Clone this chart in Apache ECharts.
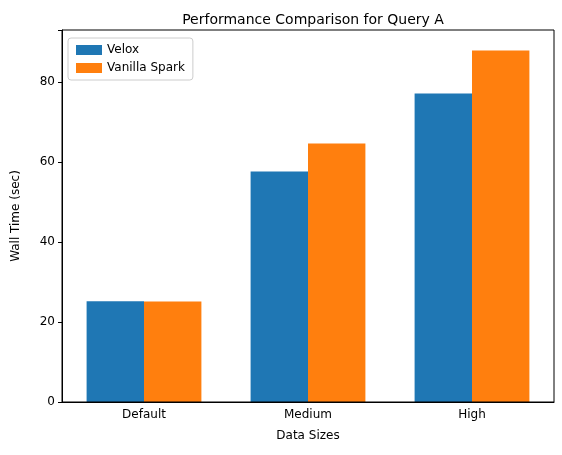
<!DOCTYPE html>
<html>
<head>
<meta charset="utf-8">
<script src="https://cdn.jsdelivr.net/npm/echarts@6/dist/echarts.min.js"></script>
<style>html,body{margin:0;padding:0;background:#fff}#chart{width:562px;height:455px}</style>
</head>
<body>
<div id="chart"></div>
<script>
var categories = ['Default', 'Medium', 'High'];
var velox = [25.2, 57.6, 77.1];
var spark = [25.1, 64.6, 87.9];
var yTicks = [0, 20, 40, 60, 80];

var myChart = echarts.init(document.getElementById('chart'));
var font = 'DejaVu Sans';
myChart.setOption({
  animation: false,
  textStyle: { fontFamily: font },
  title: {
    text: 'Performance Comparison for Query A',
    left: 308, top: 8, textAlign: 'center',
    textStyle: { fontSize: 14, fontWeight: 'normal', color: '#000', fontFamily: font }
  },
  color: ['#1f77b4', '#ff7f0e'],
  legend: {
    left: 68, top: 38, orient: 'vertical',
    itemWidth: 26, itemHeight: 10, itemGap: 6,
    borderColor: '#ccc', borderWidth: 1, borderRadius: 3, padding: [6, 8],
    textStyle: { fontSize: 12, color: '#000', fontFamily: font },
    icon: 'rect',
    data: ['Velox', 'Vanilla Spark']
  },
  grid: { left: 62, right: 8, top: 30, bottom: 53 },
  xAxis: {
    type: 'category', data: categories,
    name: 'Data Sizes', nameLocation: 'middle', nameGap: 28,
    nameTextStyle: { fontSize: 12, color: '#000' },
    axisLine: { lineStyle: { color: '#000' } },
    axisTick: { alignWithLabel: true, length: 4, lineStyle: { color: '#000' } },
    axisLabel: { fontSize: 12, color: '#000', margin: 7 },
    splitLine: { show: false }
  },
  yAxis: {
    type: 'value', min: 0, max: 93, interval: 20,
    name: 'Wall Time (sec)', nameLocation: 'middle', nameGap: 40,
    nameTextStyle: { fontSize: 12, color: '#000' },
    axisLine: { show: true, lineStyle: { color: '#000' } },
    axisTick: { show: true, length: 4, lineStyle: { color: '#000' } },
    axisLabel: { fontSize: 12, color: '#000', margin: 7,
      formatter: function (v) { return yTicks.indexOf(v) >= 0 ? v : ''; } },
    splitLine: { show: false }
  },
  series: [
    { name: 'Velox', type: 'bar', data: velox, barGap: '0%', barCategoryGap: '30%' },
    { name: 'Vanilla Spark', type: 'bar', data: spark, barGap: '0%', barCategoryGap: '30%' }
  ]
});
// right and top frame
myChart.setOption({
  graphic: [{ type: 'rect', shape: { x: 62, y: 30, width: 492, height: 372 },
    style: { fill: 'none', stroke: '#000', lineWidth: 1 }, silent: true, z: 10 }]
});
</script>
</body>
</html>
